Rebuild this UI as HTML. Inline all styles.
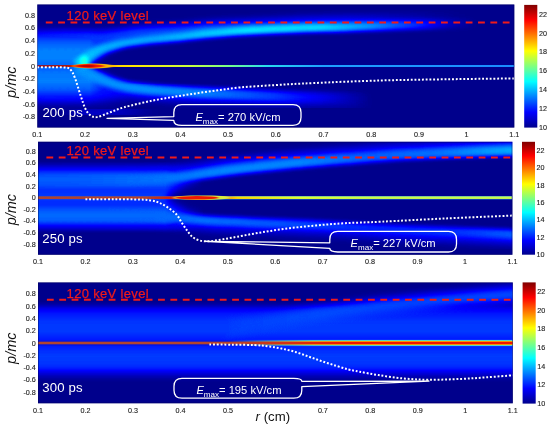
<!DOCTYPE html><html><head><meta charset="utf-8"><style>
html,body{margin:0;padding:0;background:#fff;}
svg{display:block;}
text{font-family:"Liberation Sans",Arial,sans-serif;}
.tk{font-size:7.2px;fill:#222;stroke:#222;stroke-width:0.12px;}
.cbt{font-size:7.2px;fill:#222;stroke:#222;stroke-width:0.12px;}
.kev{font-size:13px;fill:#f01a1a;letter-spacing:0.33px;stroke:#f01a1a;stroke-width:0.25px;}
.tl{font-size:13.2px;fill:#fff;letter-spacing:0.15px;}
.em{font-size:11.2px;fill:#fff;}
.yl{font-size:14.5px;font-style:italic;fill:#111;}
.xl{font-size:13.2px;fill:#111;}
</style></head><body><svg width="550" height="425" viewBox="0 0 550 425"><defs><filter id="jet" x="0" y="0" width="1" height="1" color-interpolation-filters="sRGB"><feComponentTransfer><feFuncR type="table" tableValues="0 0 0 0 0.5 1 1 1 0.5"/><feFuncG type="table" tableValues="0 0 0.5 1 1 1 0.5 0 0"/><feFuncB type="table" tableValues="0.55 1 1 1 0.5 0 0 0 0"/></feComponentTransfer></filter><linearGradient id="jetg" x1="0" y1="1" x2="0" y2="0"><stop offset="0" stop-color="#00008c"/><stop offset="0.125" stop-color="#0000ff"/><stop offset="0.375" stop-color="#00ffff"/><stop offset="0.625" stop-color="#ffff00"/><stop offset="0.875" stop-color="#ff0000"/><stop offset="1" stop-color="#800000"/></linearGradient><clipPath id="c1"><rect x="37.3" y="4.6" width="477" height="123"/></clipPath><linearGradient id="g1" gradientUnits="userSpaceOnUse" x1="0" y1="20.28" x2="0" y2="111.72"><stop offset="0" stop-color="#000000"/><stop offset="0.07" stop-color="#050505"/><stop offset="0.12" stop-color="#141414"/><stop offset="0.17" stop-color="#262626"/><stop offset="0.24" stop-color="#363636"/><stop offset="0.33" stop-color="#404040"/><stop offset="0.42" stop-color="#404040"/><stop offset="0.47" stop-color="#3b3b3b"/><stop offset="0.5" stop-color="#3b3b3b"/><stop offset="0.53" stop-color="#383838"/><stop offset="0.57" stop-color="#3d3d3d"/><stop offset="0.67" stop-color="#404040"/><stop offset="0.76" stop-color="#363636"/><stop offset="0.83" stop-color="#262626"/><stop offset="0.89" stop-color="#141414"/><stop offset="0.94" stop-color="#050505"/><stop offset="1" stop-color="#000000"/></linearGradient><linearGradient id="g3" gradientUnits="userSpaceOnUse" x1="18.22" y1="0" x2="132.7" y2="0"><stop offset="0" stop-color="#ffffff"/><stop offset="0.62" stop-color="#ffffff"/><stop offset="1" stop-color="#000000"/></linearGradient><filter id="b0" x="-50%" y="-50%" width="200%" height="200%" color-interpolation-filters="sRGB"><feGaussianBlur stdDeviation="2.5 2.5"/></filter><mask id="m2" maskUnits="userSpaceOnUse" x="0" y="0" width="550" height="425"><rect x="0" y="0" width="550" height="425" fill="url(#g3)"/><path d="M90.72 66 L96.92 60.28 L108.85 53.3 L127.93 46.95 L180.4 41.23 L275.8 37.42 L562 34.25 L562 94.58 L275.8 91.4 L180.4 86.32 L132.7 81.24 L113.62 76.16 L99.31 70.44 Z" fill="#000" filter="url(#b0)"/></mask><filter id="b1" x="-50%" y="-50%" width="200%" height="200%" color-interpolation-filters="sRGB"><feGaussianBlur stdDeviation="1 1.2"/></filter><linearGradient id="g4" gradientUnits="userSpaceOnUse" x1="37.3" y1="0" x2="466.6" y2="0"><stop offset="0" stop-color="#262626"/><stop offset="0.22" stop-color="#333333"/><stop offset="0.39" stop-color="#303030"/><stop offset="0.56" stop-color="#262626"/><stop offset="0.72" stop-color="#212121"/><stop offset="0.83" stop-color="#121212"/><stop offset="0.94" stop-color="#050505"/><stop offset="1" stop-color="#000000"/></linearGradient><filter id="b2" x="-50%" y="-50%" width="200%" height="200%" color-interpolation-filters="sRGB"><feGaussianBlur stdDeviation="3.5 3.5"/></filter><linearGradient id="g5" gradientUnits="userSpaceOnUse" x1="75.46" y1="0" x2="476.14" y2="0"><stop offset="0" stop-color="#545454"/><stop offset="0.08" stop-color="#4c4c4c"/><stop offset="0.2" stop-color="#4a4a4a"/><stop offset="0.32" stop-color="#525252"/><stop offset="0.44" stop-color="#5b5b5b"/><stop offset="0.62" stop-color="#575757"/><stop offset="0.74" stop-color="#454545"/><stop offset="0.86" stop-color="#292929"/><stop offset="0.94" stop-color="#0d0d0d"/><stop offset="1" stop-color="#000000"/></linearGradient><filter id="b3" x="-50%" y="-50%" width="200%" height="200%" color-interpolation-filters="sRGB"><feGaussianBlur stdDeviation="2.2 2.2"/></filter><linearGradient id="g6" gradientUnits="userSpaceOnUse" x1="37.3" y1="0" x2="371.2" y2="0"><stop offset="0" stop-color="#262626"/><stop offset="0.43" stop-color="#212121"/><stop offset="0.71" stop-color="#171717"/><stop offset="0.93" stop-color="#0a0a0a"/><stop offset="1" stop-color="#000000"/></linearGradient><linearGradient id="g7" gradientUnits="userSpaceOnUse" x1="75.46" y1="0" x2="371.2" y2="0"><stop offset="0" stop-color="#454545"/><stop offset="0.27" stop-color="#454545"/><stop offset="0.44" stop-color="#404040"/><stop offset="0.68" stop-color="#2e2e2e"/><stop offset="0.84" stop-color="#1a1a1a"/><stop offset="0.97" stop-color="#050505"/><stop offset="1" stop-color="#000000"/></linearGradient><filter id="b4" x="-50%" y="-50%" width="200%" height="200%" color-interpolation-filters="sRGB"><feGaussianBlur stdDeviation="2.3 2.3"/></filter><linearGradient id="g8" gradientUnits="userSpaceOnUse" x1="61.15" y1="0" x2="156.55" y2="0"><stop offset="0" stop-color="#000000"/><stop offset="0.25" stop-color="#171717"/><stop offset="0.6" stop-color="#141414"/><stop offset="1" stop-color="#000000"/></linearGradient><filter id="b5" x="-50%" y="-50%" width="200%" height="200%" color-interpolation-filters="sRGB"><feGaussianBlur stdDeviation="4 4"/></filter><linearGradient id="g9" gradientUnits="userSpaceOnUse" x1="37.3" y1="0" x2="514.3" y2="0"><stop offset="0" stop-color="#8a1a3a"/><stop offset="0.06" stop-color="#a01818"/><stop offset="0.08" stop-color="#d01800"/><stop offset="0.12" stop-color="#ff3000"/><stop offset="0.14" stop-color="#ff9000"/><stop offset="0.17" stop-color="#ffd800"/><stop offset="0.2" stop-color="#ffe800"/><stop offset="0.32" stop-color="#c8ff40"/><stop offset="0.4" stop-color="#78ff88"/><stop offset="0.48" stop-color="#28dcf0"/><stop offset="0.6" stop-color="#1ea0ff"/><stop offset="1" stop-color="#1a8cff"/></linearGradient><filter id="b6" x="-50%" y="-50%" width="200%" height="200%" color-interpolation-filters="sRGB"><feGaussianBlur stdDeviation="2 0.5"/></filter><filter id="b7" x="-50%" y="-50%" width="200%" height="200%" color-interpolation-filters="sRGB"><feGaussianBlur stdDeviation="2 0.4"/></filter><filter id="b8" x="-50%" y="-50%" width="200%" height="200%" color-interpolation-filters="sRGB"><feGaussianBlur stdDeviation="1.5 0.3"/></filter><clipPath id="c2"><rect x="38" y="141.8" width="474.4" height="112.9"/></clipPath><linearGradient id="g10" gradientUnits="userSpaceOnUse" x1="0" y1="161.74" x2="0" y2="232.5"><stop offset="0" stop-color="#000000"/><stop offset="0.05" stop-color="#0d0d0d"/><stop offset="0.11" stop-color="#212121"/><stop offset="0.17" stop-color="#303030"/><stop offset="0.25" stop-color="#383838"/><stop offset="0.33" stop-color="#333333"/><stop offset="0.4" stop-color="#2b2b2b"/><stop offset="0.47" stop-color="#2d2d2d"/><stop offset="0.51" stop-color="#2e2e2e"/><stop offset="0.55" stop-color="#2b2b2b"/><stop offset="0.61" stop-color="#2b2b2b"/><stop offset="0.67" stop-color="#333333"/><stop offset="0.75" stop-color="#3b3b3b"/><stop offset="0.84" stop-color="#363636"/><stop offset="0.9" stop-color="#212121"/><stop offset="0.96" stop-color="#0d0d0d"/><stop offset="1" stop-color="#000000"/></linearGradient><linearGradient id="g12" gradientUnits="userSpaceOnUse" x1="19.02" y1="0" x2="204.04" y2="0"><stop offset="0" stop-color="#ffffff"/><stop offset="0.79" stop-color="#ffffff"/><stop offset="1" stop-color="#000000"/></linearGradient><filter id="b9" x="-50%" y="-50%" width="200%" height="200%" color-interpolation-filters="sRGB"><feGaussianBlur stdDeviation="3 3"/></filter><mask id="m11" maskUnits="userSpaceOnUse" x="0" y="0" width="550" height="425"><rect x="0" y="0" width="550" height="425" fill="url(#g12)"/><path d="M166.09 197.7 L175.58 191.9 L189.81 186.1 L227.76 180.3 L275.2 174.5 L559.84 162.9 L559.84 220.9 L275.2 215.1 L227.76 212.78 L189.81 209.3 L175.58 203.5 Z" fill="#000" filter="url(#b9)"/></mask><filter id="b10" x="-50%" y="-50%" width="200%" height="200%" color-interpolation-filters="sRGB"><feGaussianBlur stdDeviation="1.5 1"/></filter><linearGradient id="g13" gradientUnits="userSpaceOnUse" x1="38" y1="0" x2="512.4" y2="0"><stop offset="0" stop-color="#141414"/><stop offset="0.2" stop-color="#1a1a1a"/><stop offset="0.4" stop-color="#242424"/><stop offset="0.6" stop-color="#212121"/><stop offset="0.8" stop-color="#1f1f1f"/><stop offset="1" stop-color="#262626"/></linearGradient><linearGradient id="g14" gradientUnits="userSpaceOnUse" x1="38" y1="0" x2="512.4" y2="0"><stop offset="0" stop-color="#333333"/><stop offset="0.2" stop-color="#3b3b3b"/><stop offset="0.4" stop-color="#424242"/><stop offset="0.55" stop-color="#424242"/><stop offset="0.7" stop-color="#383838"/><stop offset="0.85" stop-color="#3d3d3d"/><stop offset="1" stop-color="#4c4c4c"/></linearGradient><linearGradient id="g15" gradientUnits="userSpaceOnUse" x1="38" y1="0" x2="512.4" y2="0"><stop offset="0" stop-color="#141414"/><stop offset="0.3" stop-color="#1f1f1f"/><stop offset="0.6" stop-color="#1a1a1a"/><stop offset="1" stop-color="#1f1f1f"/></linearGradient><linearGradient id="g16" gradientUnits="userSpaceOnUse" x1="38" y1="0" x2="512.4" y2="0"><stop offset="0" stop-color="#333333"/><stop offset="0.2" stop-color="#383838"/><stop offset="0.35" stop-color="#3d3d3d"/><stop offset="0.5" stop-color="#363636"/><stop offset="0.7" stop-color="#292929"/><stop offset="0.9" stop-color="#2e2e2e"/><stop offset="1" stop-color="#383838"/></linearGradient><linearGradient id="g17" gradientUnits="userSpaceOnUse" x1="38" y1="0" x2="512.4" y2="0"><stop offset="0" stop-color="#3050c0"/><stop offset="0.28" stop-color="#3060d0"/><stop offset="0.32" stop-color="#30c0ff"/><stop offset="1" stop-color="#30b0ff"/></linearGradient><linearGradient id="g18" gradientUnits="userSpaceOnUse" x1="38" y1="0" x2="512.4" y2="0"><stop offset="0" stop-color="#b04430"/><stop offset="0.23" stop-color="#b4402c"/><stop offset="0.27" stop-color="#d02810"/><stop offset="0.3" stop-color="#ee1800"/><stop offset="0.37" stop-color="#ff2000"/><stop offset="0.39" stop-color="#ff8000"/><stop offset="0.42" stop-color="#ffd800"/><stop offset="0.55" stop-color="#e0ff30"/><stop offset="0.7" stop-color="#ccfa48"/><stop offset="1" stop-color="#c8fa50"/></linearGradient><filter id="b11" x="-50%" y="-50%" width="200%" height="200%" color-interpolation-filters="sRGB"><feGaussianBlur stdDeviation="1.5 0.4"/></filter><clipPath id="c3"><rect x="38" y="282.4" width="474.8" height="120.9"/></clipPath><linearGradient id="g19" gradientUnits="userSpaceOnUse" x1="0" y1="301.18" x2="0" y2="381.75"><stop offset="0" stop-color="#000000"/><stop offset="0.05" stop-color="#0a0a0a"/><stop offset="0.09" stop-color="#1a1a1a"/><stop offset="0.15" stop-color="#252525"/><stop offset="0.25" stop-color="#2d2d2d"/><stop offset="0.37" stop-color="#2f2f2f"/><stop offset="0.44" stop-color="#292929"/><stop offset="0.5" stop-color="#252525"/><stop offset="0.54" stop-color="#252525"/><stop offset="0.6" stop-color="#2a2a2a"/><stop offset="0.67" stop-color="#2f2f2f"/><stop offset="0.79" stop-color="#2d2d2d"/><stop offset="0.85" stop-color="#242424"/><stop offset="0.9" stop-color="#141414"/><stop offset="0.95" stop-color="#080808"/><stop offset="1" stop-color="#000000"/></linearGradient><filter id="b12" x="-50%" y="-50%" width="200%" height="200%" color-interpolation-filters="sRGB"><feGaussianBlur stdDeviation="2 1"/></filter><linearGradient id="g20" gradientUnits="userSpaceOnUse" x1="38" y1="0" x2="322.88" y2="0"><stop offset="0" stop-color="#000000"/><stop offset="0.17" stop-color="#343434"/><stop offset="0.83" stop-color="#343434"/><stop offset="1" stop-color="#000000"/></linearGradient><filter id="b13" x="-50%" y="-50%" width="200%" height="200%" color-interpolation-filters="sRGB"><feGaussianBlur stdDeviation="1.5 1.5"/></filter><linearGradient id="g21" gradientUnits="userSpaceOnUse" x1="38" y1="0" x2="251.66" y2="0"><stop offset="0" stop-color="#000000"/><stop offset="0.22" stop-color="#303030"/><stop offset="0.78" stop-color="#303030"/><stop offset="1" stop-color="#000000"/></linearGradient><linearGradient id="g22" gradientUnits="userSpaceOnUse" x1="38" y1="0" x2="417.84" y2="0"><stop offset="0" stop-color="#000000"/><stop offset="0.12" stop-color="#343434"/><stop offset="0.88" stop-color="#343434"/><stop offset="1" stop-color="#000000"/></linearGradient><linearGradient id="g23" gradientUnits="userSpaceOnUse" x1="85.48" y1="0" x2="370.36" y2="0"><stop offset="0" stop-color="#000000"/><stop offset="0.17" stop-color="#303030"/><stop offset="0.83" stop-color="#303030"/><stop offset="1" stop-color="#000000"/></linearGradient><linearGradient id="g24" gradientUnits="userSpaceOnUse" x1="38" y1="0" x2="275.4" y2="0"><stop offset="0" stop-color="#000000"/><stop offset="0.2" stop-color="#333333"/><stop offset="0.8" stop-color="#333333"/><stop offset="1" stop-color="#000000"/></linearGradient><linearGradient id="g25" gradientUnits="userSpaceOnUse" x1="170.94" y1="0" x2="512.8" y2="0"><stop offset="0" stop-color="#000000"/><stop offset="0.17" stop-color="#303030"/><stop offset="0.44" stop-color="#343434"/><stop offset="1" stop-color="#363636"/></linearGradient><linearGradient id="g26" gradientUnits="userSpaceOnUse" x1="38" y1="0" x2="512.8" y2="0"><stop offset="0" stop-color="#000000"/><stop offset="0.4" stop-color="#000000"/><stop offset="0.58" stop-color="#d9d9d9"/><stop offset="0.7" stop-color="#ffffff"/><stop offset="1" stop-color="#ffffff"/></linearGradient><mask id="m27" maskUnits="userSpaceOnUse" x="0" y="0" width="550" height="425"><rect x="0" y="0" width="550" height="425" fill="url(#g26)"/></mask><linearGradient id="g28" gradientUnits="userSpaceOnUse" x1="38" y1="0" x2="512.8" y2="0"><stop offset="0" stop-color="#b04430"/><stop offset="0.4" stop-color="#b4442c"/><stop offset="0.52" stop-color="#d83010"/><stop offset="0.65" stop-color="#f01400"/><stop offset="1" stop-color="#f01400"/></linearGradient></defs><rect width="550" height="425" fill="#fff"/><g clip-path="url(#c1)">
<g filter="url(#jet)" style="isolation:isolate">
<rect x="17.3" y="-15.4" width="517" height="163" fill="#000"/>
<g mask="url(#m2)" style="mix-blend-mode:lighten"><rect x="18.22" y="20.28" width="133.56" height="91.44" fill="url(#g1)" filter="url(#b1)"/></g>
<path d="M37.3 40.6 C42.86 40.39 61.15 39.54 70.69 39.33 C80.23 39.12 87.38 39.75 94.54 39.33 C101.69 38.91 107.26 37.74 113.62 36.79 C119.98 35.84 126.66 34.36 132.7 33.62 C138.74 32.87 141.92 32.87 149.87 32.34 C157.82 31.82 170.54 31.18 180.4 30.44 C190.26 29.7 197.41 28.64 209.02 27.9 C220.63 27.16 234.94 26.74 250.04 25.99 C265.15 25.25 284.23 24.09 299.65 23.45 C315.07 22.82 326.68 22.61 342.58 22.19 C358.48 21.76 378.35 21.23 395.05 20.91 C411.74 20.6 426.85 20.49 442.75 20.28 C458.65 20.07 482.5 19.75 490.45 19.65" fill="none" stroke="url(#g4)" stroke-width="12" filter="url(#b2)" style="mix-blend-mode:lighten"/>
<path d="M75.46 64.09 C77.05 63.14 80.87 60.81 85 58.38 C89.13 55.95 93.9 52.03 100.26 49.49 C106.62 46.95 114.89 44.83 123.16 43.14 C131.43 41.45 140.33 40.44 149.87 39.33 C159.41 38.22 170.54 37.48 180.4 36.47 C190.26 35.47 197.41 34.36 209.02 33.3 C220.63 32.24 234.94 31.02 250.04 30.12 C265.15 29.22 284.23 28.43 299.65 27.9 C315.07 27.37 326.68 27.37 342.58 26.95 C358.48 26.52 378.35 25.84 395.05 25.36 C411.74 24.88 426.85 24.51 442.75 24.09 C458.65 23.67 482.5 23.03 490.45 22.82" fill="none" stroke="url(#g5)" stroke-width="9" filter="url(#b3)" style="mix-blend-mode:lighten"/>
<path d="M37.3 91.4 C42.86 91.4 61.15 91.61 70.69 91.4 C80.23 91.19 86.59 90.34 94.54 90.13 C102.49 89.92 110.44 89.81 118.39 90.13 C126.34 90.45 131.9 91.29 142.24 92.03 C152.57 92.78 166.09 93.73 180.4 94.58 C194.71 95.42 208.22 96.27 228.1 97.11 C247.97 97.96 275.8 98.91 299.65 99.66 C323.5 100.4 359.27 101.24 371.2 101.56" fill="none" stroke="url(#g6)" stroke-width="14" filter="url(#b2)" style="mix-blend-mode:lighten"/>
<path d="M75.46 67.91 C77.05 68.65 81.02 70.55 85 72.35 C88.98 74.15 94.54 76.8 99.31 78.7 C104.08 80.61 108.53 82.35 113.62 83.78 C118.71 85.21 122.68 86.21 129.84 87.27 C136.99 88.33 144.86 89.23 156.55 90.13 C168.24 91.03 179.37 91.61 199.96 92.67 C220.55 93.73 258.39 95.63 280.09 96.48 C301.8 97.33 314.99 97.33 330.18 97.75 C345.36 98.17 364.36 98.81 371.2 99.02" fill="none" stroke="url(#g7)" stroke-width="10" filter="url(#b4)" style="mix-blend-mode:lighten"/>
<path d="M61.15 112.99 C69.1 112.88 92.95 112.78 108.85 112.35 C124.75 111.93 148.6 110.77 156.55 110.45" fill="none" stroke="url(#g8)" stroke-width="9" filter="url(#b5)" style="mix-blend-mode:lighten"/>
<ellipse cx="84.05" cy="61.55" rx="4" ry="6" fill="#6b6b6b" filter="url(#b3)" style="mix-blend-mode:lighten"/>
</g>
<rect x="37.3" y="65" width="477" height="2.0" fill="url(#g9)"/>
<ellipse cx="93" cy="66" rx="20" ry="2.5" fill="#ffc000" filter="url(#b6)"/>
<ellipse cx="89" cy="66" rx="15" ry="1.9" fill="#f01800" filter="url(#b7)"/>
<ellipse cx="87" cy="66" rx="8" ry="1.1" fill="#c00000" filter="url(#b8)"/>
<line x1="45.8" y1="22.4" x2="512.3" y2="22.4" stroke="#f01a1a" stroke-width="2" stroke-dasharray="6.8 5.55"/>
<path d="M37.3 67.27 C39.68 67.27 46.84 67.22 51.61 67.27 C56.38 67.32 62.74 67.16 65.92 67.59 C69.1 68.01 69.18 68.06 70.69 69.81 C72.2 71.56 73.31 73.73 74.98 78.06 C76.65 82.4 79.04 90.87 80.71 95.84 C82.38 100.82 83.49 104.73 85 107.91 C86.51 111.08 87.78 113.36 89.77 114.9 C91.76 116.43 93.67 117.49 96.92 117.12 C100.18 116.75 104.8 114.31 109.33 112.67 C113.86 111.03 116.8 109.31 124.11 107.28 C131.43 105.24 143.59 102.43 153.21 100.48 C162.83 98.53 172.21 97.14 181.83 95.59 C191.45 94.05 201.15 92.57 210.93 91.21 C220.71 89.84 229.69 88.43 240.5 87.4 C251.31 86.37 263.56 85.78 275.8 85.05 C288.04 84.32 296.47 83.78 313.96 83.02 C331.45 82.26 358.72 81.1 380.74 80.48 C402.76 79.85 423.83 79.61 446.09 79.27 C468.35 78.93 502.93 78.58 514.3 78.45" fill="none" stroke="#fff" stroke-width="2" stroke-dasharray="1.9 1.85"/>
<path d="M107 118.3 L173.8 116.6 L173.8 112.6 Q173.8 104.6 181.8 104.6 L293 104.6 Q301 104.6 301 112.6 L301 117.3 Q301 125.3 293 125.3 L181.8 125.3 Q173.8 125.3 173.8 120.4 Z" fill="none" stroke="#fff" stroke-width="1.3" stroke-linejoin="round"/>
<text x="195.4" y="121.3" class="em"><tspan font-style="italic">E</tspan><tspan font-size="8" dy="2.2">max</tspan><tspan dy="-2.2">= 270 kV/cm</tspan></text>
<text x="66.6" y="19.6" class="kev">120 keV level</text>
<text x="42.4" y="117.4" class="tl">200 ps</text>
</g>
<rect x="37.7" y="5" width="476.2" height="122.2" fill="none" stroke="#000050" stroke-opacity="0.5" stroke-width="0.8"/>
<text x="35.1" y="17.7" class="tk" text-anchor="end">0.8</text>
<text x="35.1" y="30.4" class="tk" text-anchor="end">0.6</text>
<text x="35.1" y="43.1" class="tk" text-anchor="end">0.4</text>
<text x="35.1" y="55.8" class="tk" text-anchor="end">0.2</text>
<text x="35.1" y="68.5" class="tk" text-anchor="end">0</text>
<text x="35.1" y="81.2" class="tk" text-anchor="end">-0.2</text>
<text x="35.1" y="93.9" class="tk" text-anchor="end">-0.4</text>
<text x="35.1" y="106.6" class="tk" text-anchor="end">-0.6</text>
<text x="35.1" y="119.3" class="tk" text-anchor="end">-0.8</text>
<text x="37.3" y="136.9" class="tk" text-anchor="middle">0.1</text>
<text x="85" y="136.9" class="tk" text-anchor="middle">0.2</text>
<text x="132.7" y="136.9" class="tk" text-anchor="middle">0.3</text>
<text x="180.4" y="136.9" class="tk" text-anchor="middle">0.4</text>
<text x="228.1" y="136.9" class="tk" text-anchor="middle">0.5</text>
<text x="275.8" y="136.9" class="tk" text-anchor="middle">0.6</text>
<text x="323.5" y="136.9" class="tk" text-anchor="middle">0.7</text>
<text x="371.2" y="136.9" class="tk" text-anchor="middle">0.8</text>
<text x="418.9" y="136.9" class="tk" text-anchor="middle">0.9</text>
<text x="466.6" y="136.9" class="tk" text-anchor="middle">1</text>
<text x="514.3" y="136.9" class="tk" text-anchor="middle">1.1</text>
<text transform="translate(15.6 82.2) rotate(-90)" class="yl" text-anchor="middle">p/mc</text>
<rect x="524.2" y="4.9" width="13.1" height="122.7" fill="url(#jetg)"/>
<text x="538.9" y="130" class="cbt">10</text>
<text x="538.9" y="111.12" class="cbt">12</text>
<text x="538.9" y="92.25" class="cbt">14</text>
<text x="538.9" y="73.37" class="cbt">16</text>
<text x="538.9" y="54.49" class="cbt">18</text>
<text x="538.9" y="35.62" class="cbt">20</text>
<text x="538.9" y="16.74" class="cbt">22</text>
<g clip-path="url(#c2)">
<g filter="url(#jet)" style="isolation:isolate">
<rect x="18" y="121.8" width="514.4" height="152.9" fill="#000"/>
<g mask="url(#m11)" style="mix-blend-mode:lighten"><rect x="19.02" y="161.74" width="208.74" height="70.76" fill="url(#g10)" filter="url(#b10)"/></g>
<path d="M38 175.66 C49.86 175.66 90.97 175.76 109.16 175.66 C127.35 175.56 136.83 175.37 147.11 175.08 C157.39 174.79 163.72 174.5 170.83 173.92 C177.95 173.34 182.69 172.57 189.81 171.6 C196.92 170.63 205.15 169.28 213.53 168.12 C221.91 166.96 227.36 166.09 240.09 164.64 C252.82 163.19 272.2 161.06 289.91 159.42 C307.62 157.78 328.02 156.23 346.36 154.78 C364.7 153.33 380.2 151.88 399.97 150.72 C419.73 149.56 444.64 148.59 464.96 147.82 C485.28 147.05 512.4 146.37 521.89 146.08" fill="none" stroke="url(#g13)" stroke-width="14" filter="url(#b2)" style="mix-blend-mode:lighten"/>
<path d="M38 179.72 C49.86 179.72 90.97 179.82 109.16 179.72 C127.35 179.62 136.83 179.43 147.11 179.14 C157.39 178.85 163.72 178.56 170.83 177.98 C177.95 177.4 182.69 176.63 189.81 175.66 C196.92 174.69 205.15 173.34 213.53 172.18 C221.91 171.02 227.36 170.15 240.09 168.7 C252.82 167.25 272.2 165.12 289.91 163.48 C307.62 161.84 328.02 160.29 346.36 158.84 C364.7 157.39 380.2 155.94 399.97 154.78 C419.73 153.62 444.64 152.65 464.96 151.88 C485.28 151.11 512.4 150.43 521.89 150.14" fill="none" stroke="url(#g14)" stroke-width="10" filter="url(#b4)" style="mix-blend-mode:lighten"/>
<path d="M38 219.16 C49.86 219.16 90.97 219.06 109.16 219.16 C127.35 219.26 135.25 219.26 147.11 219.74 C158.97 220.22 170.83 221.29 180.32 222.06 C189.81 222.83 192.18 223.61 204.04 224.38 C215.9 225.15 231.71 225.83 251.48 226.7 C271.25 227.57 298.92 228.44 322.64 229.6 C346.36 230.76 370.08 232.5 393.8 233.66 C417.52 234.82 443.61 235.69 464.96 236.56 C486.31 237.43 512.4 238.49 521.89 238.88" fill="none" stroke="url(#g15)" stroke-width="12" filter="url(#b2)" style="mix-blend-mode:lighten"/>
<path d="M38 215.1 C49.86 215.1 90.97 215 109.16 215.1 C127.35 215.2 135.25 215.2 147.11 215.68 C158.97 216.16 170.83 217.23 180.32 218 C189.81 218.77 192.18 219.55 204.04 220.32 C215.9 221.09 231.71 221.77 251.48 222.64 C271.25 223.51 298.92 224.38 322.64 225.54 C346.36 226.7 370.08 228.44 393.8 229.6 C417.52 230.76 443.61 231.63 464.96 232.5 C486.31 233.37 512.4 234.43 521.89 234.82" fill="none" stroke="url(#g16)" stroke-width="9" filter="url(#b4)" style="mix-blend-mode:lighten"/>
</g>
<rect x="38" y="196" width="474.4" height="3.4" fill="url(#g17)" opacity="0.8"/>
<rect x="38" y="196.45" width="474.4" height="2.5" fill="url(#g18)"/>
<ellipse cx="201.67" cy="197.7" rx="28.46" ry="2.3" fill="#d8f040" filter="url(#b11)"/>
<ellipse cx="196.92" cy="197.7" rx="21.35" ry="1.7" fill="#f01400" filter="url(#b11)"/>
<line x1="46.4" y1="157.4" x2="510.4" y2="157.4" stroke="#f01a1a" stroke-width="2" stroke-dasharray="6.8 5.55"/>
<path d="M85.44 199.15 C90.18 199.17 104.81 199.21 113.9 199.27 C123 199.32 133.83 199.3 140 199.5 C146.16 199.69 147.74 199.9 150.91 200.43 C154.07 200.95 156.2 201.48 158.97 202.63 C161.74 203.78 164.59 205.35 167.51 207.33 C170.44 209.31 174.15 211.96 176.52 214.52 C178.9 217.08 179.92 219.95 181.74 222.7 C183.56 225.44 185.62 228.6 187.44 230.99 C189.25 233.38 190.6 235.44 192.65 237.02 C194.71 238.61 197.08 239.79 199.77 240.5 C202.46 241.22 205.15 241.48 208.78 241.32 C212.42 241.15 216.85 240.28 221.59 239.52 C226.34 238.75 230.45 237.95 237.25 236.73 C244.05 235.52 253.69 233.63 262.39 232.21 C271.09 230.79 280.42 229.34 289.43 228.21 C298.45 227.08 307.38 226.25 316.47 225.42 C325.57 224.6 333.08 223.91 343.99 223.28 C354.9 222.65 364.86 222.47 381.94 221.65 C399.02 220.84 424.72 219.42 446.46 218.41 C468.2 217.39 501.41 216.04 512.4 215.56" fill="none" stroke="#fff" stroke-width="2" stroke-dasharray="1.9 1.85"/>
<path d="M205 241.4 L329.8 242.8 L329.8 239.4 Q329.8 231.4 337.8 231.4 L448.5 231.4 Q456.5 231.4 456.5 239.4 L456.5 244 Q456.5 252 448.5 252 L337.8 252 Q329.8 252 329.8 248.3 Z" fill="none" stroke="#fff" stroke-width="1.3" stroke-linejoin="round"/>
<text x="350.6" y="247.4" class="em"><tspan font-style="italic">E</tspan><tspan font-size="8" dy="2.2">max</tspan><tspan dy="-2.2">= 227 kV/cm</tspan></text>
<text x="66.6" y="155.3" class="kev">120 keV level</text>
<text x="42.2" y="242.7" class="tl">250 ps</text>
</g>
<rect x="38.4" y="142.2" width="473.6" height="112.1" fill="none" stroke="#000050" stroke-opacity="0.5" stroke-width="0.8"/>
<text x="35.8" y="153.8" class="tk" text-anchor="end">0.8</text>
<text x="35.8" y="165.4" class="tk" text-anchor="end">0.6</text>
<text x="35.8" y="177" class="tk" text-anchor="end">0.4</text>
<text x="35.8" y="188.6" class="tk" text-anchor="end">0.2</text>
<text x="35.8" y="200.2" class="tk" text-anchor="end">0</text>
<text x="35.8" y="211.8" class="tk" text-anchor="end">-0.2</text>
<text x="35.8" y="223.4" class="tk" text-anchor="end">-0.4</text>
<text x="35.8" y="235" class="tk" text-anchor="end">-0.6</text>
<text x="35.8" y="246.6" class="tk" text-anchor="end">-0.8</text>
<text x="38" y="264" class="tk" text-anchor="middle">0.1</text>
<text x="85.44" y="264" class="tk" text-anchor="middle">0.2</text>
<text x="132.88" y="264" class="tk" text-anchor="middle">0.3</text>
<text x="180.32" y="264" class="tk" text-anchor="middle">0.4</text>
<text x="227.76" y="264" class="tk" text-anchor="middle">0.5</text>
<text x="275.2" y="264" class="tk" text-anchor="middle">0.6</text>
<text x="322.64" y="264" class="tk" text-anchor="middle">0.7</text>
<text x="370.08" y="264" class="tk" text-anchor="middle">0.8</text>
<text x="417.52" y="264" class="tk" text-anchor="middle">0.9</text>
<text x="464.96" y="264" class="tk" text-anchor="middle">1</text>
<text x="512.4" y="264" class="tk" text-anchor="middle">1.1</text>
<text transform="translate(15.6 209.6) rotate(-90)" class="yl" text-anchor="middle">p/mc</text>
<rect x="522" y="141.8" width="13" height="112.9" fill="url(#jetg)"/>
<text x="536.6" y="257.1" class="cbt">10</text>
<text x="536.6" y="239.73" class="cbt">12</text>
<text x="536.6" y="222.36" class="cbt">14</text>
<text x="536.6" y="204.99" class="cbt">16</text>
<text x="536.6" y="187.62" class="cbt">18</text>
<text x="536.6" y="170.25" class="cbt">20</text>
<text x="536.6" y="152.88" class="cbt">22</text>
<g clip-path="url(#c3)">
<g filter="url(#jet)" style="isolation:isolate">
<rect x="18" y="262.4" width="514.8" height="160.9" fill="#000"/>
<g style="mix-blend-mode:lighten"><rect x="19.01" y="301.18" width="512.78" height="80.56" fill="url(#g19)" filter="url(#b12)"/></g>
<path d="M38 324.55 C85.48 324.55 275.4 324.55 322.88 324.55" fill="none" stroke="url(#g20)" stroke-width="3" filter="url(#b13)" style="mix-blend-mode:lighten"/>
<path d="M38 317.17 C73.61 317.17 216.05 317.17 251.66 317.17" fill="none" stroke="url(#g21)" stroke-width="2.5" filter="url(#b13)" style="mix-blend-mode:lighten"/>
<path d="M38 358.38 C101.31 358.38 354.53 358.38 417.84 358.38" fill="none" stroke="url(#g22)" stroke-width="4" filter="url(#b13)" style="mix-blend-mode:lighten"/>
<path d="M85.48 366.37 C132.96 366.37 322.88 366.37 370.36 366.37" fill="none" stroke="url(#g23)" stroke-width="2.5" filter="url(#b13)" style="mix-blend-mode:lighten"/>
<path d="M38 330.7 C77.57 330.7 235.83 330.7 275.4 330.7" fill="none" stroke="url(#g24)" stroke-width="2" filter="url(#b13)" style="mix-blend-mode:lighten"/>
<path d="M170.94 335.62 C180.44 334.39 210.51 330.7 227.92 328.24 C245.33 325.78 259.57 323.32 275.4 320.86 C291.23 318.4 307.05 315.74 322.88 313.48 C338.71 311.23 354.53 309.18 370.36 307.33 C386.19 305.48 402.01 303.95 417.84 302.41 C433.67 300.87 447.91 299.54 465.32 298.11 C482.73 296.67 512.8 294.52 522.3 293.8" fill="none" stroke="url(#g25)" stroke-width="14" filter="url(#b5)" style="mix-blend-mode:lighten"/>
</g>
<rect x="38" y="340.5" width="474.8" height="5" fill="#0010c8" opacity="0.6"/>
<rect x="38" y="339.9" width="474.8" height="6.2" fill="#30d8f0" mask="url(#m27)"/>
<rect x="38" y="340.8" width="474.8" height="4.4" fill="#ffc800" mask="url(#m27)"/>
<rect x="38" y="341.7" width="474.8" height="2.6" fill="url(#g28)"/>
<line x1="46.9" y1="299.8" x2="510.8" y2="299.8" stroke="#f01a1a" stroke-width="2" stroke-dasharray="6.8 5.55"/>
<path d="M209.4 344.48 C213.28 344.52 225.15 344.62 232.67 344.72 C240.19 344.82 248.57 344.81 254.51 345.09 C260.44 345.37 263.77 345.8 268.28 346.38 C272.79 346.97 277.06 347.67 281.57 348.6 C286.08 349.52 290.75 350.55 295.34 351.92 C299.93 353.28 304.6 355.2 309.11 356.78 C313.62 358.35 317.89 359.88 322.41 361.39 C326.92 362.9 331.82 364.47 336.17 365.82 C340.53 367.16 344.72 368.48 348.52 369.44 C352.32 370.41 353.98 370.65 358.96 371.6 C363.95 372.54 370.99 373.96 378.43 375.1 C385.87 376.25 395.13 377.71 403.6 378.49 C412.06 379.26 419.66 379.71 429.24 379.78 C438.81 379.85 451.47 379.33 461.05 378.92 C470.62 378.51 478.06 377.92 486.69 377.32 C495.31 376.71 508.45 375.63 512.8 375.29" fill="none" stroke="#fff" stroke-width="2" stroke-dasharray="1.9 1.85"/>
<path d="M429 381.1 L301.8 386.7 L301.8 390.2 Q301.8 398.2 293.8 398.2 L182 398.2 Q174 398.2 174 390.2 L174 386.3 Q174 378.3 182 378.3 L293.8 378.3 Q301.8 378.3 301.8 381.3 Z" fill="none" stroke="#fff" stroke-width="1.3" stroke-linejoin="round"/>
<text x="196.4" y="394.4" class="em"><tspan font-style="italic">E</tspan><tspan font-size="8" dy="2.2">max</tspan><tspan dy="-2.2">= 195 kV/cm</tspan></text>
<text x="66.6" y="297.6" class="kev">120 keV level</text>
<text x="42.2" y="392.2" class="tl">300 ps</text>
</g>
<rect x="38.4" y="282.8" width="474" height="120.1" fill="none" stroke="#000050" stroke-opacity="0.5" stroke-width="0.8"/>
<text x="35.8" y="296.3" class="tk" text-anchor="end">0.8</text>
<text x="35.8" y="308.6" class="tk" text-anchor="end">0.6</text>
<text x="35.8" y="320.9" class="tk" text-anchor="end">0.4</text>
<text x="35.8" y="333.2" class="tk" text-anchor="end">0.2</text>
<text x="35.8" y="345.5" class="tk" text-anchor="end">0</text>
<text x="35.8" y="357.8" class="tk" text-anchor="end">-0.2</text>
<text x="35.8" y="370.1" class="tk" text-anchor="end">-0.4</text>
<text x="35.8" y="382.4" class="tk" text-anchor="end">-0.6</text>
<text x="35.8" y="394.7" class="tk" text-anchor="end">-0.8</text>
<text x="38" y="412.6" class="tk" text-anchor="middle">0.1</text>
<text x="85.48" y="412.6" class="tk" text-anchor="middle">0.2</text>
<text x="132.96" y="412.6" class="tk" text-anchor="middle">0.3</text>
<text x="180.44" y="412.6" class="tk" text-anchor="middle">0.4</text>
<text x="227.92" y="412.6" class="tk" text-anchor="middle">0.5</text>
<text x="322.88" y="412.6" class="tk" text-anchor="middle">0.7</text>
<text x="370.36" y="412.6" class="tk" text-anchor="middle">0.8</text>
<text x="417.84" y="412.6" class="tk" text-anchor="middle">0.9</text>
<text x="465.32" y="412.6" class="tk" text-anchor="middle">1</text>
<text x="512.8" y="412.6" class="tk" text-anchor="middle">1.1</text>
<text transform="translate(15.6 348.2) rotate(-90)" class="yl" text-anchor="middle">p/mc</text>
<rect x="522.6" y="282.4" width="13.1" height="121.2" fill="url(#jetg)"/>
<text x="537.3" y="406" class="cbt">10</text>
<text x="537.3" y="387.35" class="cbt">12</text>
<text x="537.3" y="368.71" class="cbt">14</text>
<text x="537.3" y="350.06" class="cbt">16</text>
<text x="537.3" y="331.42" class="cbt">18</text>
<text x="537.3" y="312.77" class="cbt">20</text>
<text x="537.3" y="294.12" class="cbt">22</text>
<text x="255.6" y="421.4" class="xl"><tspan font-style="italic">r</tspan> (cm)</text></svg></body></html>
